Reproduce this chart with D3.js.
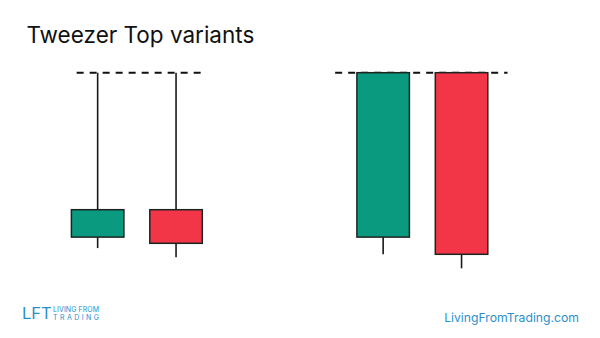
<!DOCTYPE html>
<html>
<head>
<meta charset="utf-8">
<script src="https://cdn.jsdelivr.net/npm/d3@7"></script>
<style>
  body { margin: 0; background: #fff; }
  svg { display: block; font-family: Inter, "Noto Sans", sans-serif; }
</style>
</head>
<body>
<script>
// chart data
var groups = ["wick", "body"];
var candleTypes = ["bull", "bear"];
var opens  = [[17.8, 31.5], [17.8, 100]];
var closes = [[31.5, 14.7], [100, 9.2]];
var highs  = [[100, 100], [100, 100]];
var lows   = [[12.3, 7.7], [9.2, 2.2]];
var resistance = [100, 100];

var title = "Tweezer Top variants";
var siteText = "LivingFromTrading.com";

var width = 600, height = 338;
var colors = { bull: "#0a9a7f", bear: "#f23647" };

var svg = d3.select("body").append("svg")
  .attr("width", width)
  .attr("height", height);

var y = d3.scaleLinear().domain([0, 100]).range([272.7, 72.7]);
var xGroup = d3.scalePoint().domain(groups).range([136.85, 422.35]);
var xCandle = d3.scalePoint().domain(candleTypes).range([-39.2, 39.2]);
var bodyW = 52.5;

// dashed resistance line, extends a bit past the candles
var dashPad = [[21, 27], [48, 46]];
groups.forEach(function(g, gi) {
  var x0 = xGroup(g) + xCandle("bull") - dashPad[gi][0];
  var x1 = xGroup(g) + xCandle("bear") + dashPad[gi][1];
  svg.append("line")
    .attr("x1", x0).attr("x2", x1)
    .attr("y1", y(resistance[gi])).attr("y2", y(resistance[gi]))
    .attr("stroke", "#111")
    .attr("stroke-width", 2)
    .attr("stroke-dasharray", "7,6");
});

// candles
var candles = [];
groups.forEach(function(g, gi) {
  candleTypes.forEach(function(t, ti) {
    candles.push({ g: g, t: t, o: opens[gi][ti], c: closes[gi][ti], h: highs[gi][ti], l: lows[gi][ti] });
  });
});

var cg = svg.selectAll(".candle").data(candles).enter().append("g")
  .attr("class", "candle")
  .attr("transform", function(d) { return "translate(" + (xGroup(d.g) + xCandle(d.t)) + ",0)"; });

cg.append("line")
  .attr("x1", 0).attr("x2", 0)
  .attr("y1", function(d) { return y(d.h); })
  .attr("y2", function(d) { return y(d.l); })
  .attr("stroke", "#1a1a1a")
  .attr("stroke-width", 1.6);

cg.append("rect")
  .attr("x", -bodyW / 2)
  .attr("width", bodyW)
  .attr("y", function(d) { return y(Math.max(d.o, d.c)); })
  .attr("height", function(d) { return Math.abs(y(d.o) - y(d.c)); })
  .attr("fill", function(d) { return colors[d.t]; })
  .attr("stroke", "#1c2422")
  .attr("stroke-width", 1.5);

// title
svg.append("text")
  .attr("x", 26.5).attr("y", 43)
  .attr("font-size", 22.5)
  .attr("font-weight", 400)
  .attr("fill", "#111")
  .text(title);

// logo
var logo = svg.append("g").attr("fill", "#2b8fcc");
logo.append("text")
  .attr("x", 22).attr("y", 318.5)
  .attr("font-size", 16.5)
  .text("LFT");
logo.append("text")
  .attr("x", 53).attr("y", 311.5)
  .attr("font-size", 7)
  .attr("textLength", 46)
  .text("LIVING FROM");
logo.append("text")
  .attr("x", 53).attr("y", 319.5)
  .attr("font-size", 7)
  .attr("textLength", 46)
  .attr("lengthAdjust", "spacing")
  .text("TRADING");

svg.append("text")
  .attr("x", 579).attr("y", 322)
  .attr("text-anchor", "end")
  .attr("font-size", 12.2)
  .attr("fill", "#2b8fcc")
  .text(siteText);
</script>
</body>
</html>
